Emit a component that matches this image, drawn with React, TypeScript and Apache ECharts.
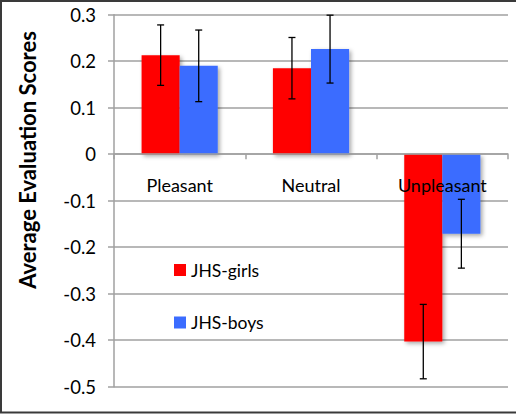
import React, { useEffect, useRef } from "react";
import * as echarts from "echarts";

const categories = ["Pleasant", "Neutral", "Unpleasant"];
const girlsValues = [0.213, 0.185, -0.403];
const boysValues = [0.19, 0.226, -0.171];
const girlsErrors = [0.065, 0.066, 0.08];
const boysErrors = [0.077, 0.073, 0.074];
const seriesNames = ["JHS-girls", "JHS-boys"];
const yTicks = { min: -0.5, max: 0.3, interval: 0.1 };

const FONT = "Lato";
const GAP = 0.42;
const GRID_TOP = 14.7;
const GRID_BOTTOM = 27.3;
const CHART_H = 414;

export default function App() {
  const ref = useRef<HTMLDivElement>(null);
  useEffect(() => {
    if (!ref.current) return;
    const chart = echarts.init(ref.current, null, { renderer: "svg" });

    const errRender = (sign: number) => (params: any, api: any) => {
      const idx = api.value(0);
      const val = api.value(1);
      const err = api.value(2);
      const c = api.coord([idx, val]);
      const band = api.size([1, 0])[0];
      const barW = (band * (1 - GAP)) / 2;
      const x = c[0] + (sign * barW) / 2;
      const hi = api.coord([idx, val + err])[1];
      const lo = api.coord([idx, val - err])[1];
      const style = { stroke: "#000", lineWidth: 1.3 };
      const cap = 3.5;
      return {
        type: "group",
        children: [
          { type: "line", shape: { x1: x, y1: hi, x2: x, y2: lo }, style },
          { type: "line", shape: { x1: x - cap, y1: hi, x2: x + cap, y2: hi }, style },
          { type: "line", shape: { x1: x - cap, y1: lo, x2: x + cap, y2: lo }, style },
        ],
      };
    };

    const barShadow = {
      shadowColor: "rgba(0,0,0,0.35)",
      shadowBlur: 4,
      shadowOffsetX: 2,
      shadowOffsetY: 2,
    };

    // offset that lifts the category axis from the grid bottom to the zero line
    const plotH = CHART_H - GRID_TOP - GRID_BOTTOM;
    const zeroFromBottom = (plotH * (0 - yTicks.min)) / (yTicks.max - yTicks.min);

    chart.setOption({
      animation: false,
      grid: {
        left: 114,
        right: 8,
        top: GRID_TOP,
        bottom: GRID_BOTTOM,
        containLabel: false,
        outerBoundsMode: "none",
      },
      legend: {
        orient: "vertical",
        left: 169,
        top: 255,
        padding: 5,
        itemWidth: 12,
        itemHeight: 12,
        itemGap: 32.5,
        icon: "rect",
        data: seriesNames,
        textStyle: { fontFamily: FONT, fontSize: 17.5, color: "#000", lineHeight: 20 },
        itemStyle: { shadowBlur: 0, shadowOffsetX: 0, shadowOffsetY: 0 },
      },
      xAxis: {
        type: "category",
        data: categories,
        z: 5,
        offset: -zeroFromBottom,
        axisLine: { onZero: false, lineStyle: { color: "#a0a0a0", width: 1.5 } },
        axisTick: { show: true, length: 5, lineStyle: { color: "#a0a0a0", width: 1.5 } },
        axisLabel: { fontFamily: FONT, fontSize: 18, color: "#000", margin: 22 },
      },
      yAxis: {
        type: "value",
        min: yTicks.min,
        max: yTicks.max,
        interval: yTicks.interval,
        axisLine: { show: true, lineStyle: { color: "#a0a0a0", width: 1.5 } },
        axisTick: { show: true, length: 6, lineStyle: { color: "#a0a0a0", width: 1.5 } },
        splitLine: { lineStyle: { color: "#a0a0a0", width: 1.5 } },
        axisLabel: {
          fontFamily: FONT,
          fontSize: 18.5,
          color: "#000",
          margin: 18,
          formatter: (v: number) => {
            const r = Math.round(v * 10) / 10;
            return r === 0 ? "0" : r.toFixed(1);
          },
        },
      },
      graphic: [
        {
          type: "rect",
          shape: { x: 1, y: 1, width: 600, height: 411.5 },
          style: { fill: "none", stroke: "#3a3a3a", lineWidth: 2 },
          silent: true,
        },
        {
          type: "text",
          x: 27,
          y: 160,
          rotation: Math.PI / 2,
          style: {
            text: "Average Evaluation Scores",
            fontFamily: FONT,
            fontSize: 22,
            fontWeight: "bold",
            fill: "#000",
            align: "center",
            verticalAlign: "middle",
          },
        },
      ],
      series: [
        {
          name: seriesNames[0],
          type: "bar",
          data: girlsValues,
          barGap: "0%",
          barCategoryGap: GAP * 100 + "%",
          itemStyle: { color: "#ff0000", ...barShadow },
        },
        {
          name: seriesNames[1],
          type: "bar",
          data: boysValues,
          barGap: "0%",
          barCategoryGap: GAP * 100 + "%",
          itemStyle: { color: "#3b6cff", ...barShadow },
        },
        {
          type: "custom",
          z: 10,
          renderItem: errRender(-1),
          encode: { x: 0, y: 1 },
          data: girlsValues.map((v, i) => [i, v, girlsErrors[i]]),
        },
        {
          type: "custom",
          z: 10,
          renderItem: errRender(1),
          encode: { x: 0, y: 1 },
          data: boysValues.map((v, i) => [i, v, boysErrors[i]]),
        },
      ],
    });
    return () => chart.dispose();
  }, []);
  return (
    <div
      ref={ref}
      style={{ position: "fixed", left: 0, top: 0, width: 516, height: 414, background: "#fff" }}
    />
  );
}
